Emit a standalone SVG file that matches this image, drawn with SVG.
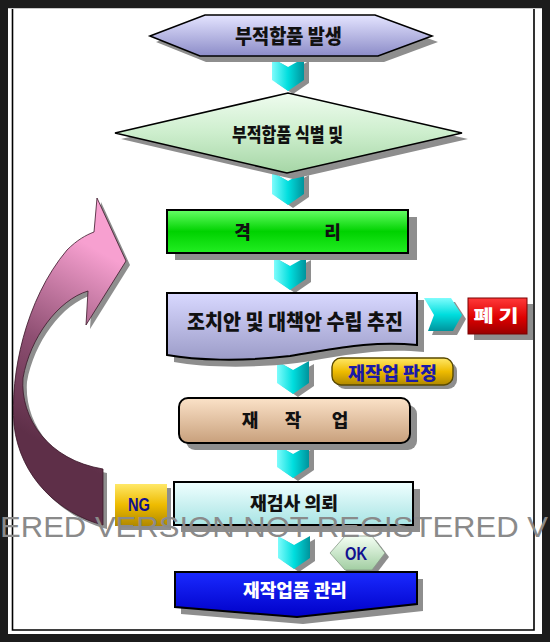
<svg xmlns="http://www.w3.org/2000/svg" width="550" height="642" viewBox="0 0 550 642">
<defs>
<style>
.t{font-family:"Noto Sans CJK KR","Noto Sans",sans-serif;font-weight:900;text-anchor:middle;fill:#111}
.l{font-family:"Liberation Sans",Arial,sans-serif;font-weight:700;text-anchor:middle}
.sh{fill:#8e8e8e}
.bd{stroke:#000;stroke-width:2}
</style>
<linearGradient id="gHex" x1="0" y1="0" x2="0" y2="1"><stop offset="0" stop-color="#e4e4ff"/><stop offset="1" stop-color="#8c8cc8"/></linearGradient>
<linearGradient id="gDia" x1="0" y1="0" x2="0" y2="1"><stop offset="0" stop-color="#effcef"/><stop offset="0.5" stop-color="#cdeecd"/><stop offset="1" stop-color="#a6d6a6"/></linearGradient>
<linearGradient id="gGrn" x1="0" y1="0" x2="0" y2="1"><stop offset="0" stop-color="#66ff66"/><stop offset="0.5" stop-color="#00d200"/><stop offset="1" stop-color="#22ee22"/></linearGradient>
<linearGradient id="gLav" x1="0" y1="0" x2="0" y2="1"><stop offset="0" stop-color="#d8d8ff"/><stop offset="1" stop-color="#9c9cc8"/></linearGradient>
<linearGradient id="gRed" x1="0" y1="0" x2="0" y2="1"><stop offset="0" stop-color="#ff3a3a"/><stop offset="0.55" stop-color="#dd0000"/><stop offset="1" stop-color="#990000"/></linearGradient>
<linearGradient id="gGold" x1="0" y1="0" x2="0" y2="1"><stop offset="0" stop-color="#ffe868"/><stop offset="0.5" stop-color="#eebb00"/><stop offset="1" stop-color="#b08800"/></linearGradient>
<linearGradient id="gTan" x1="0" y1="0" x2="0" y2="1"><stop offset="0" stop-color="#fbe2c8"/><stop offset="1" stop-color="#c8a07c"/></linearGradient>
<linearGradient id="gCyl" x1="0" y1="0" x2="0" y2="1"><stop offset="0" stop-color="#f0ffff"/><stop offset="1" stop-color="#a8e4e4"/></linearGradient>
<linearGradient id="gOk" x1="0" y1="0" x2="0" y2="1"><stop offset="0" stop-color="#f4fff4"/><stop offset="1" stop-color="#a2cea2"/></linearGradient>
<linearGradient id="gBlu" x1="0" y1="0" x2="0" y2="1"><stop offset="0" stop-color="#1a2aff"/><stop offset="1" stop-color="#0000c8"/></linearGradient>
<linearGradient id="gChev" x1="0" y1="0" x2="1" y2="0"><stop offset="0" stop-color="#7ffcfc"/><stop offset="0.5" stop-color="#00dede"/><stop offset="1" stop-color="#00939c"/></linearGradient>
<linearGradient id="gChevR" x1="0" y1="0" x2="0" y2="1"><stop offset="0" stop-color="#7ffcfc"/><stop offset="0.5" stop-color="#00dede"/><stop offset="1" stop-color="#00939c"/></linearGradient>
<linearGradient id="gPink" gradientUnits="userSpaceOnUse" x1="20" y1="430" x2="115" y2="260"><stop offset="0" stop-color="#5e2f48"/><stop offset="0.45" stop-color="#8e4f72"/><stop offset="1" stop-color="#f7a0d0"/></linearGradient>
<g id="chev">
<polygon class="sh" points="5,3 21,12 37,3 37,25 21,36 5,25"/>
<polygon points="0,0 16,9 32,0 32,22 16,33 0,22" fill="url(#gChev)"/>
</g>
</defs>

<rect width="550" height="642" fill="#1c1c1c"/>
<rect x="8" y="8" width="534" height="626" fill="#fff"/>
<line x1="8" y1="8.5" x2="542" y2="8.5" stroke="#c8c8c8"/>
<path d="M12.5,9 V630 H534 V9" fill="none" stroke="#000" stroke-width="1.6"/>

<g id="connectors">
<use href="#chev" x="272" y="58"/>
<use href="#chev" x="272" y="172"/>
<use href="#chev" x="274" y="257"/>
<use href="#chev" x="277" y="361"/>
<use href="#chev" x="277" y="445"/>
<use href="#chev" x="278" y="536"/>
<g id="chev-right">
<polygon class="sh" points="428,302 455,302 466,319 457,335 432,335 438,319"/>
<polygon points="424,298 451,298 462,315 453,331 428,331 434,315" fill="url(#gChevR)"/>
</g>
<g id="loop-arrow">
<path class="sh" transform="translate(4,4)" d="M103,525 C60,514 20,478 14,425 C10,375 25,300 67,250 C77,240 86,235 94,232 L97,198 L126,261 L86,325 L88,291 C58,300 30,338 23,378 C20,418 48,460 103,469 Z"/>
<path d="M103,525 C60,514 20,478 14,425 C10,375 25,300 67,250 C77,240 86,235 94,232 L97,198 L126,261 L86,325 L88,291 C58,300 30,338 23,378 C20,418 48,460 103,469 Z" fill="url(#gPink)" stroke="#3a1628" stroke-width="0.8"/>
</g>
</g>

<g id="n-occur">
<polygon class="sh" points="156,42 211,21 381,21 438,42 384,62 206,62"/>
<polygon points="150,36 205,15 375,15 432,36 378,56 200,56" fill="url(#gHex)" stroke="#000" stroke-width="1.6"/>
<text class="t" x="288.5" y="44" font-size="20" textLength="107" lengthAdjust="spacingAndGlyphs">부적합품 발생</text>
</g>

<g id="n-identify">
<polygon class="sh" points="121,139 294,99 468,139 293,179"/>
<polygon points="115,133 288,93 462,133 287,173" fill="url(#gDia)" stroke="#000" stroke-width="1.6"/>
<text class="t" x="287.5" y="142" font-size="19" textLength="111" lengthAdjust="spacingAndGlyphs">부적합품 식별 및</text>
</g>

<g id="n-isolate">
<rect class="sh" x="175" y="217" width="242" height="43"/>
<rect x="167" y="210" width="241" height="43" fill="url(#gGrn)" class="bd"/>
<text class="t" y="239" font-size="18"><tspan x="242.5">격</tspan><tspan x="332.5">리</tspan></text>
</g>

<g id="n-action">
<path class="sh" transform="translate(7,7)" d="M167,293 H417 V345 C370,340 330,350 290,356 C240,362 195,360 167,355 Z"/>
<path d="M167,293 H417 V345 C370,340 330,350 290,356 C240,362 195,360 167,355 Z" fill="url(#gLav)" class="bd"/>
<text class="t" x="295" y="329" font-size="21" textLength="216" lengthAdjust="spacingAndGlyphs">조치안 및 대책안 수립 추진</text>
</g>

<g id="n-discard">
<rect class="sh" x="474" y="304" width="59" height="36"/>
<rect x="468" y="298" width="59" height="36" fill="url(#gRed)" stroke="#7a0000" stroke-width="1"/>
<text class="t" x="496" y="322" font-size="17" style="fill:#fff" textLength="45" lengthAdjust="spacingAndGlyphs">폐 기</text>
</g>

<g id="n-judge">
<rect class="sh" x="336" y="362" width="121" height="27" rx="9"/>
<rect x="332" y="358" width="121" height="27" rx="9" fill="url(#gGold)" stroke="#5a4a00" stroke-width="1.4"/>
<text class="t" x="392.5" y="380" font-size="18" style="fill:#1a1aa8" textLength="89" lengthAdjust="spacingAndGlyphs">재작업 판정</text>
</g>

<g id="n-rework">
<rect class="sh" x="186" y="405" width="231" height="45" rx="9"/>
<rect x="179" y="398" width="231" height="45" rx="9" fill="url(#gTan)" class="bd"/>
<text class="t" y="427" font-size="18"><tspan x="250">재</tspan><tspan x="293">작</tspan><tspan x="340">업</tspan></text>
</g>

<g id="n-ng">
<rect class="sh" x="119" y="488" width="52" height="42"/>
<rect x="115" y="484" width="52" height="42" fill="url(#gGold)"/>
<text class="l" x="139" y="511" font-size="18" style="fill:#101090" textLength="22" lengthAdjust="spacingAndGlyphs">NG</text>
</g>

<g id="n-reinspect">
<rect class="sh" x="181" y="489" width="239" height="43"/>
<rect x="174" y="482" width="239" height="43" fill="url(#gCyl)" class="bd"/>
<text class="t" x="294" y="510" font-size="18" textLength="88" lengthAdjust="spacingAndGlyphs">재검사 의뢰</text>
</g>

<g id="n-ok">
<polygon class="sh" points="334,557 349,540 376,540 389,557 376,574 349,574"/>
<polygon points="330,553 345,536 372,536 385,553 372,570 345,570" fill="url(#gOk)" stroke="#889988" stroke-width="0.8"/>
<text class="l" x="356" y="560" font-size="18" style="fill:#101090" textLength="22" lengthAdjust="spacingAndGlyphs">OK</text>
</g>

<g id="n-manage">
<polygon class="sh" points="181,579 423,579 423,611 303,624 181,614"/>
<polygon points="175,572 417,572 417,604 297,617 175,607" fill="url(#gBlu)" class="bd"/>
<text class="t" x="295" y="597" font-size="18" style="fill:#fff" textLength="104" lengthAdjust="spacingAndGlyphs">재작업품 관리</text>
</g>

<text x="0" y="537" font-family="Liberation Sans, Arial, sans-serif" font-size="30" fill="#8a8a8a" textLength="548" lengthAdjust="spacingAndGlyphs">ERED VERSION NOT REGISTERED V</text>
</svg>
